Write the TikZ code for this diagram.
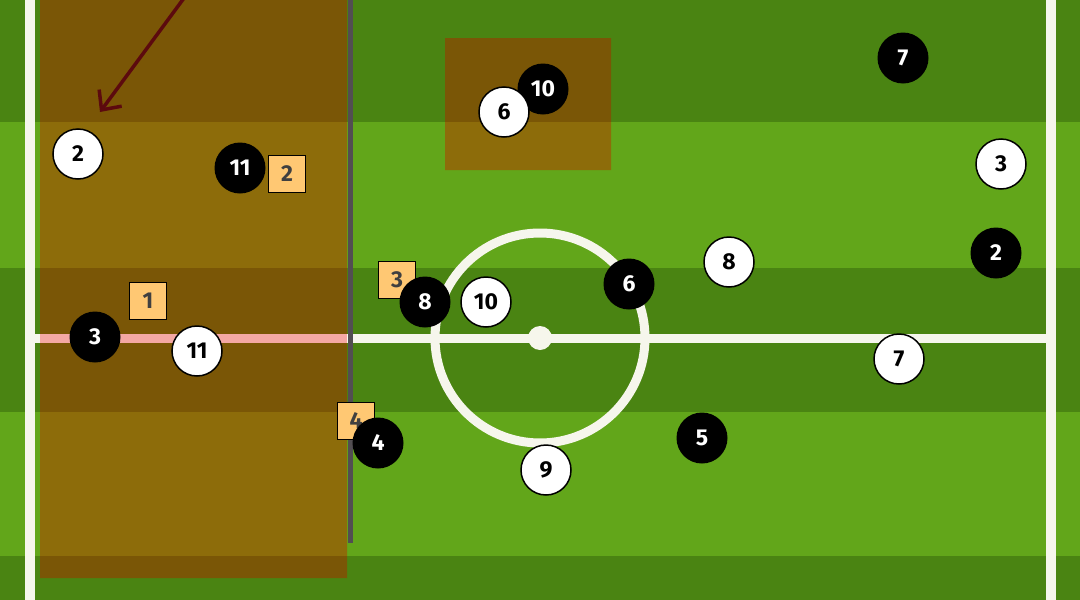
\documentclass[tikz,border=0pt]{standalone}
\usepackage{fontspec}
\setsansfont{Fira Sans}
\usetikzlibrary{arrows.meta}

\definecolor{grassdark}{RGB}{74,132,18}
\definecolor{grasslight}{RGB}{98,166,26}
\definecolor{shadedark}{RGB}{122,86,6}
\definecolor{shadelight}{RGB}{141,108,10}
\definecolor{chalk}{RGB}{246,246,236}
\definecolor{offsidepink}{RGB}{244,168,164}
\definecolor{markerfill}{RGB}{255,200,115}
\definecolor{runcolor}{RGB}{92,10,14}
\definecolor{offsidegrey}{RGB}{82,78,82}

% mown stripes across the pitch
\newcommand{\pitchstripes}[2]{%
  \foreach \ytop/\ybot/\stripecol in {0/122/#1,122/268/#2,268/412/#1,412/556/#2,556/600/#1}
    \fill[\stripecol] (0,\ytop) rectangle (1080,\ybot);}

\begin{document}
\begin{tikzpicture}[
    x=1pt, y=-1pt,
    numfont/.style={font=\sffamily\bfseries\fontsize{23}{23}\selectfont},
    white player/.style={numfont, circle, draw=black, fill=white, text=black, line width=1.5pt, minimum size=50pt, inner sep=0pt},
    black player/.style={numfont, circle, fill=black, text=white, minimum size=51pt, inner sep=0pt},
    marker/.style={numfont, rectangle, draw=black, fill=markerfill, text=black!75, line width=1.5pt, minimum size=37pt, inner sep=0pt},
    chalkline/.style={chalk, line width=9pt},
    arrow/.style={-{Straight Barb[length=15pt,width=28pt]}, runcolor, line width=3.5pt}
]
    \useasboundingbox (0,0) rectangle (1080,600);

    % Pitch
    \pitchstripes{grassdark}{grasslight}
    \begin{scope}
        \clip (40,0) rectangle (347,578) (445,38) rectangle (611,170);
        \pitchstripes{shadedark}{shadelight}
    \end{scope}

    % Lines
    \draw[chalkline, line width=10pt] (30,0) -- (30,600);
    \draw[chalkline, line width=10pt] (1051,0) -- (1051,600);
    \draw[chalkline] (35,338) -- (1046,338);
    \draw[offsidepink, line width=9pt] (40,338) -- (347,338);
    \draw[chalkline] (540,338) circle (105);
    \fill[chalk] (540,338) circle (12);
    \draw[offsidegrey, line width=5pt] (350,0) -- (350,543);

    % Run
    \coordinate (run start) at (187,-6);
    \coordinate (run end) at (100,112);
    \draw[arrow] (run start) -- (run end);

    % Markers
    \node[marker] (m1) at (148,301) {1};
    \node[marker] (m2) at (287,174) {2};
    \node[marker] (m3) at (397,280) {3};
    \node[marker] (m4) at (356,421) {4};

    % Black team
    \node[black player] (b11) at (240,168) {11};
    \node[black player] (b3) at (95,337) {3};
    \node[black player] (b10) at (543,89) {10};
    \node[black player] (b8) at (425,302) {8};
    \node[black player] (b4) at (378,443) {4};
    \node[black player] (b6) at (629,284) {6};
    \node[black player] (b5) at (702,438) {5};
    \node[black player] (b2) at (996,253) {2};
    \node[black player] (b7) at (903,58) {7};

    % White team
    \node[white player] (w2) at (78,154) {2};
    \node[white player] (w11) at (197,351) {11};
    \node[white player] (w6) at (504,112) {6};
    \node[white player] (w10) at (486,302) {10};
    \node[white player] (w9) at (546,470) {9};
    \node[white player] (w8) at (729,262) {8};
    \node[white player] (w7) at (899,359) {7};
    \node[white player] (w3) at (1001,164) {3};
\end{tikzpicture}
\end{document}
